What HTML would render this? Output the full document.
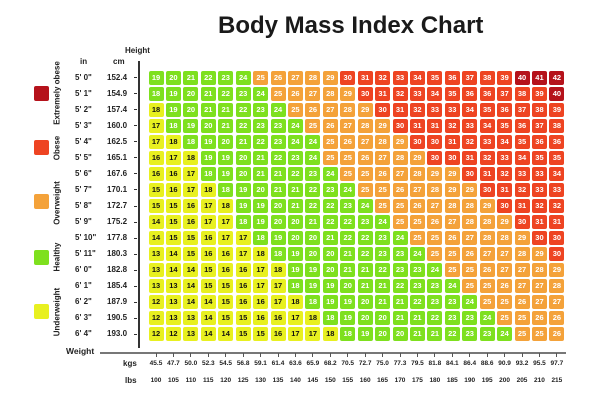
<!DOCTYPE html>
<html><head><meta charset="utf-8"><style>
html,body{margin:0;padding:0;background:#fff;}
body{width:600px;height:400px;position:relative;overflow:hidden;font-family:"Liberation Sans",sans-serif;}
.t{position:absolute;font-weight:bold;color:#222;white-space:nowrap;}
.c{position:absolute;width:15px;height:14px;border-radius:2px;font:bold 7.5px "Liberation Sans",sans-serif;line-height:14px;text-align:center;color:#fff;}
.sq{position:absolute;left:34px;width:15px;height:15px;border-radius:2px;}
.v{position:absolute;font:bold 8px "Liberation Sans",sans-serif;color:#222;transform:translate(-50%,-50%) rotate(-90deg);white-space:nowrap;}
</style></head><body>
<div class="t" style="left:218px;top:12px;font-size:24px;color:#1a1a1a;">Body Mass Index Chart</div>
<div class="t" style="left:125px;top:46px;font-size:8px;">Height</div>
<div class="t" style="left:80px;top:57px;font-size:8px;">in</div>
<div class="t" style="left:113px;top:57px;font-size:8px;">cm</div>
<div style="position:absolute;left:138px;top:61px;width:1.5px;height:287px;background:#333;"></div>
<div style="position:absolute;left:100px;top:352px;width:466px;height:1.5px;background:#777;"></div>
<div class="t" style="left:66px;top:346px;font-size:8.5px;">Weight</div>
<div class="t" style="left:123px;top:359px;font-size:8px;">kgs</div>
<div class="t" style="left:125px;top:376px;font-size:8px;">lbs</div>
<div class="sq" style="top:86px;background:#b5121b"></div>
<div class="sq" style="top:140px;background:#ee4422"></div>
<div class="sq" style="top:194px;background:#f4a23a"></div>
<div class="sq" style="top:250px;background:#7ee01e"></div>
<div class="sq" style="top:304px;background:#e8f020"></div>
<div class="v" style="left:57px;top:93px;">Extremely obese</div>
<div class="v" style="left:57px;top:148px;">Obese</div>
<div class="v" style="left:57px;top:203px;">Overweight</div>
<div class="v" style="left:57px;top:257px;">Healthy</div>
<div class="v" style="left:57px;top:312px;">Underweight</div>
<div id="g"></div>
<script>
var ins=['5\' 0"','5\' 1"','5\' 2"','5\' 3"','5\' 4"','5\' 5"','5\' 6"','5\' 7"','5\' 8"','5\' 9"','5\' 10"','5\' 11"','6\' 0"','6\' 1"','6\' 2"','6\' 3"','6\' 4"'];
var cm=[152.4,154.9,157.4,160.0,162.5,165.1,167.6,170.1,172.7,175.2,177.8,180.3,182.8,185.4,187.9,190.5,193.0];
var kg=[45.5,47.7,50.0,52.3,54.5,56.8,59.1,61.4,63.6,65.9,68.2,70.5,72.7,75.0,77.3,79.5,81.8,84.1,86.4,88.6,90.9,93.2,95.5,97.7];
var h='';
for(var r=0;r<17;r++){
 var y=77.7+r*16.04;
 h+='<div class="t" style="left:75px;top:'+(y-5)+'px;font-size:8px;">'+ins[r]+'</div>';
 h+='<div class="t" style="left:107px;top:'+(y-5)+'px;font-size:8px;">'+cm[r].toFixed(1)+'</div>';
 h+='<div style="position:absolute;left:134px;top:'+(y-0.5)+'px;width:3px;height:1px;background:#333"></div>';
 for(var c=0;c<24;c++){
  var x=156+c*17.43;var b=kg[c]/Math.pow(cm[r]/100,2);
  var col,tc='#fff';
  if(b<18.5){col='#e8f020';tc='#111';}else if(b<25)col='#7ee01e';else if(b<30)col='#f4a23a';else if(b<40)col='#ee4422';else col='#b5121b';
  h+='<div class="c" style="left:'+(x-7.5)+'px;top:'+(y-7)+'px;background:'+col+';color:'+tc+'">'+Math.floor(b)+'</div>';
 }
}
for(var c=0;c<24;c++){
 var x=156+c*17.43;
 h+='<div style="position:absolute;left:'+(x-0.5)+'px;top:353px;width:1px;height:4px;background:#555"></div>';
 h+='<div class="t" style="left:'+(x-10)+'px;width:20px;text-align:center;top:360px;font-size:6.5px;">'+kg[c].toFixed(1)+'</div>';
 h+='<div class="t" style="left:'+(x-10)+'px;width:20px;text-align:center;top:377px;font-size:6.5px;">'+(100+5*c)+'</div>';
}
document.getElementById('g').innerHTML=h;
</script>
</body></html>
